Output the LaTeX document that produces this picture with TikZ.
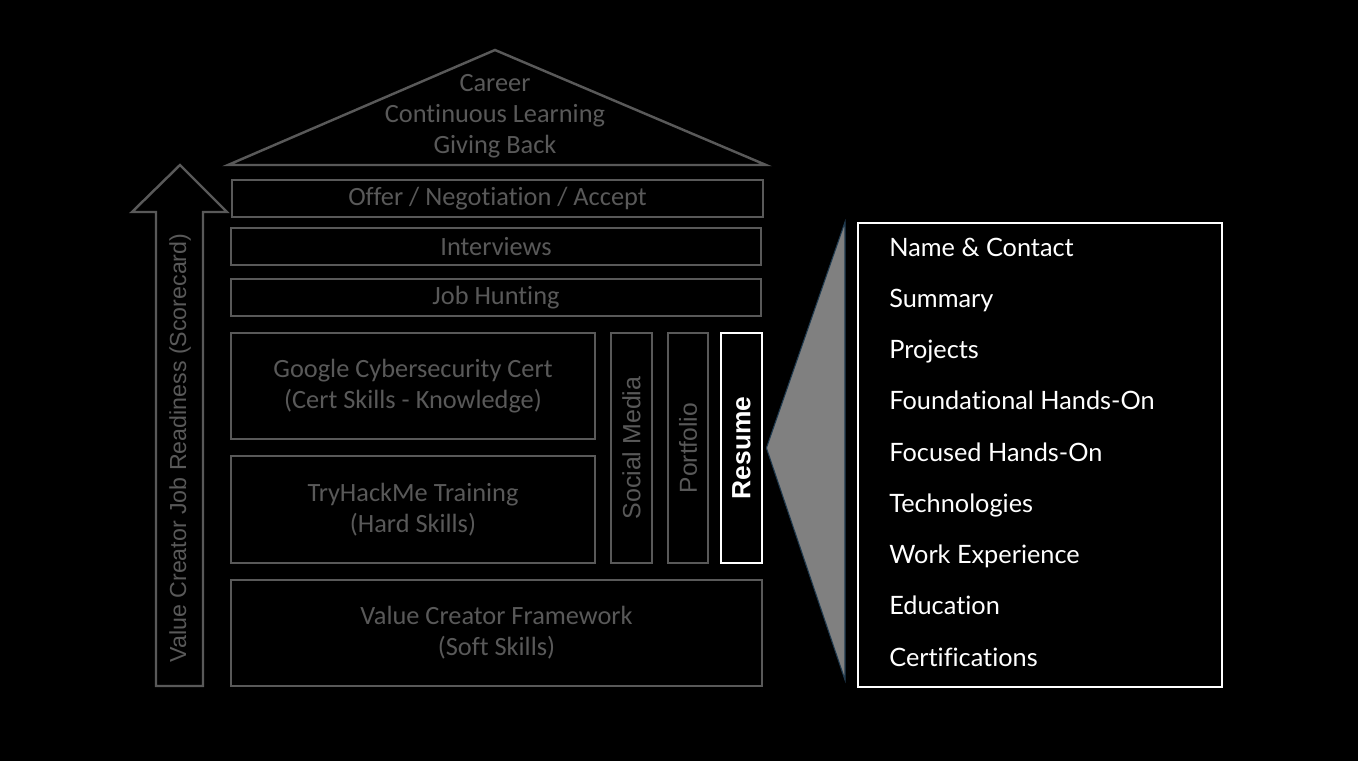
\documentclass[tikz,border=0pt]{standalone}
\usepackage{fontspec}
\setmainfont{Carlito}[Ligatures=NoCommon]
\newfontfamily\listfont{Lato}[Ligatures=NoCommon]
\newfontfamily\sidefont{Liberation Sans}
\usetikzlibrary{positioning}
\definecolor{HouseGray}{HTML}{595959}
\definecolor{CalloutGray}{HTML}{808080}
\definecolor{CalloutEdge}{HTML}{1F3A4F}

\begin{document}
\begin{tikzpicture}[x=0.02cm, y=-0.02cm,
    tier/.style={draw=HouseGray, line width=1.4pt, text=HouseGray, align=center,
      inner sep=0pt, font=\fontsize{15}{17.5}\selectfont},
    pillar/.style={tier, rotate=90, font=\sidefont\fontsize{13.2}{15}\selectfont},
    item/.style={anchor=base west, text=white, inner sep=0pt, font=\listfont\fontsize{14.4}{16}\selectfont}]
    % Background
    \fill[black] (0,0) rectangle (1358,761);

    % Roof
    \draw[HouseGray, line width=1.4pt, line join=miter] (228,165) -- (495,50) -- (766,165) -- cycle;
    \node[tier, draw=none] (roof) at (495,116) {Career\\ Continuous Learning\\ Giving Back};

    % Upper floors
    \node[tier, minimum width=10.62cm, minimum height=0.74cm] (offer) at (497.5,198.5) {Offer / Negotiation / Accept};
    \node[tier, minimum width=10.6cm, minimum height=0.74cm] (interviews) at (496,246.5) {Interviews};
    \node[tier, minimum width=10.6cm, minimum height=0.74cm] (hunting) at (496,297.5) {Job Hunting};

    % Skill blocks
    \node[tier, minimum width=7.28cm, minimum height=2.12cm] (google) at (413,386) {Google Cybersecurity Cert\\ (Cert Skills - Knowledge)};
    \node[tier, minimum width=7.28cm, minimum height=2.14cm] (tryhackme) at (413,509.5) {TryHackMe Training\\ (Hard Skills)};

    % Pillars
    \node[pillar, minimum width=4.6cm, minimum height=0.82cm, font=\sidefont\fontsize{14.2}{15}\selectfont] (social) at (631.5,448) {Social Media};
    \node[pillar, minimum width=4.6cm, minimum height=0.8cm, font=\sidefont\fontsize{14}{15}\selectfont] (portfolio) at (688,448) {Portfolio};
    \node[pillar, draw=white, text=white, line width=1.6pt, minimum width=4.6cm, minimum height=0.82cm,
      font=\sidefont\bfseries\fontsize{15}{15}\selectfont] (resume) at (741.5,448) {Resume};

    % Foundation
    \node[tier, minimum width=10.62cm, minimum height=2.12cm] (framework) at (496.5,633) {Value Creator Framework\\ (Soft Skills)};

    % Readiness arrow
    \draw[HouseGray, line width=1.4pt, line join=miter] (156,686) -- (156,212) -- (132,212) -- (180,165)
      -- (227,212) -- (203,212) -- (203,686) -- cycle;
    \node[pillar, draw=none] (readiness) at (180,448) {Value Creator Job Readiness (Scorecard)};

    % Callout
    \coordinate (ctop) at (845,222);
    \coordinate (cbot) at (845,680);
    \filldraw[fill=CalloutGray, draw=CalloutEdge, line width=0.6pt] ([xshift=0.06cm]resume.south) -- (ctop) -- (cbot) -- cycle;

    % Resume sections
    \node[draw=white, line width=1.6pt, minimum width=7.28cm, minimum height=9.28cm] (sections) at (1040,455) {};
    \foreach \name [count=\i] in {Name \& Contact, Summary, Projects, Foundational Hands-On,
        Focused Hands-On, Technologies, Work Experience, Education, Certifications}
      \node[item] (sec\i) at (889,{256+51.25*(\i-1)}) {\name};
\end{tikzpicture}
\end{document}
